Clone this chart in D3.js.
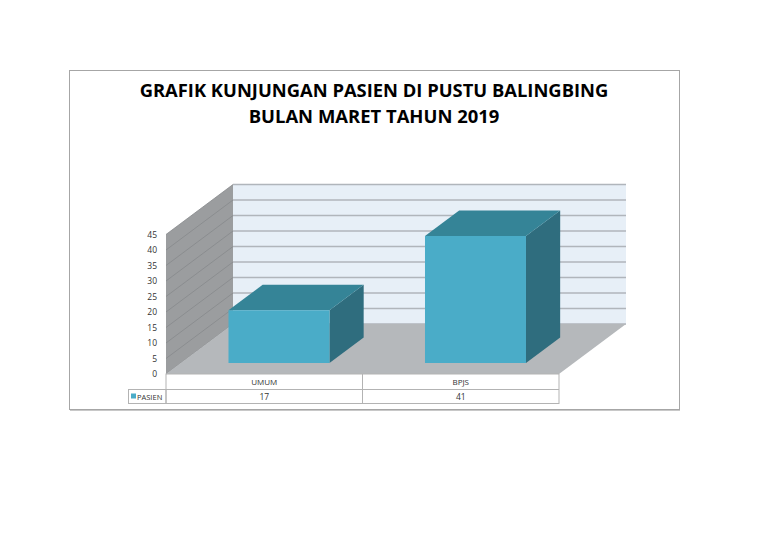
<!DOCTYPE html>
<html>
<head>
<meta charset="utf-8">
<script src="https://cdn.jsdelivr.net/npm/d3@7"></script>
<style>
  html, body { margin: 0; padding: 0; background: #fff; }
  svg { display: block; }
</style>
</head>
<body>
<div id="chart"></div>
<script>
// chart data
const titleLines = ["GRAFIK KUNJUNGAN PASIEN DI PUSTU BALINGBING", "BULAN MARET TAHUN 2019"];
const categories = ["UMUM", "BPJS"];
const values = [17, 41];
const seriesName = "PASIEN";
const yTicks = [0, 5, 10, 15, 20, 25, 30, 35, 40, 45];

const width = 768, height = 543;
const svg = d3.select("#chart").append("svg")
    .attr("width", width)
    .attr("height", height);

// outer frame
svg.append("rect")
    .attr("x", 69.5).attr("y", 70.5)
    .attr("width", 610).attr("height", 339)
    .attr("fill", "#fff")
    .attr("stroke", "#a6a6a6")
    .attr("stroke-width", 1);
svg.append("line")
    .attr("x1", 70).attr("x2", 680).attr("y1", 410.5).attr("y2", 410.5)
    .attr("stroke", "#c8c8c8");

// title, sized to the reference widths
const titleWidths = [469, 251];
const titleBase = [97, 123];
titleLines.forEach((t, i) => {
    const txt = svg.append("text")
        .attr("x", 374).attr("y", titleBase[i])
        .attr("text-anchor", "middle")
        .style("font-family", "'Open Sans', sans-serif")
        .style("font-weight", "700")
        .style("font-size", "20px")
        .style("fill", "#000")
        .text(t);
    const w = txt.node().getComputedTextLength();
    txt.style("font-size", (20 * titleWidths[i] / w).toFixed(2) + "px");
});

// 3D geometry: front plane + depth offset
const depth = { dx: 67, dy: -50 };
const x = d3.scaleBand().domain(categories).range([166, 559]).paddingInner(0).paddingOuter(0);
const y = d3.scaleLinear().domain([0, 45]).range([374, 234.5]);
const P = (px, py, f) => [px + depth.dx * f, py + depth.dy * f];
const poly = pts => "M" + pts.map(p => p.join(",")).join("L") + "Z";

const xL = x.range()[0], xR = x.range()[1];
const g = svg.append("g");

// side wall
g.append("path")
    .attr("d", poly([P(xL, y(0), 0), P(xL, y(0), 1), P(xL, y(45), 1), P(xL, y(45), 0)]))
    .attr("fill", "#9b9d9f");

// back wall
g.append("path")
    .attr("d", poly([P(xL, y(0), 1), P(xR, y(0), 1), P(xR, y(45), 1), P(xL, y(45), 1)]))
    .attr("fill", "#e7eff7");

// gridlines on back wall and side wall
yTicks.forEach(v => {
    const b0 = P(xL, y(v), 1), b1 = P(xR, y(v), 1), f0 = P(xL, y(v), 0);
    g.append("line")
        .attr("x1", b0[0]).attr("y1", b0[1]).attr("x2", b1[0]).attr("y2", b1[1])
        .attr("stroke", "#b0b5bb").attr("stroke-width", 1.3);
    g.append("line")
        .attr("x1", f0[0]).attr("y1", f0[1]).attr("x2", b0[0]).attr("y2", b0[1])
        .attr("stroke", "#87898b").attr("stroke-width", 0.8);
});

// floor
g.append("path")
    .attr("d", poly([P(xL, y(0), 0), P(xR, y(0), 0), P(xR, y(0), 1), P(xL, y(0), 1)]))
    .attr("fill", "#b5b8bb");

// y tick labels
g.selectAll("text.tick")
    .data(yTicks)
    .enter().append("text")
    .attr("class", "tick")
    .attr("x", 157)
    .attr("y", d => y(d) + 3)
    .attr("text-anchor", "end")
    .style("font-family", "'Open Sans', sans-serif")
    .style("font-size", "8.5px")
    .style("fill", "#333")
    .text(d => d);

// bars (3D boxes)
const barFrac = 0.514;
const f0 = 0.22, f1 = 0.73;
const bars = g.selectAll("g.bar")
    .data(categories.map((c, i) => ({ c, v: values[i] })))
    .enter().append("g")
    .attr("class", "bar");

bars.each(function (d) {
    const bw = x.bandwidth() * barFrac;
    const cx = x(d.c) + x.bandwidth() / 2;
    const l = cx - bw / 2, r = cx + bw / 2;
    const b = y(0), t = y(d.v);
    const s = d3.select(this);
    // side
    s.append("path")
        .attr("d", poly([P(r, b, f0), P(r, b, f1), P(r, t, f1), P(r, t, f0)]))
        .attr("fill", "#2f6d7e");
    // top
    s.append("path")
        .attr("d", poly([P(l, t, f0), P(r, t, f0), P(r, t, f1), P(l, t, f1)]))
        .attr("fill", "#358497");
    // front
    s.append("path")
        .attr("d", poly([P(l, b, f0), P(r, b, f0), P(r, t, f0), P(l, t, f0)]))
        .attr("fill", "#4aacc8");
});

// data table
const rowTop = 374, rowMid = 389.5, rowBot = 403.5;
const tbl = svg.append("g");
const border = "#b3b3b3";
tbl.append("rect")
    .attr("x", xL).attr("y", rowTop).attr("width", xR - xL).attr("height", rowBot - rowTop)
    .attr("fill", "none").attr("stroke", border);
tbl.append("line")
    .attr("x1", 128).attr("x2", xR).attr("y1", rowMid).attr("y2", rowMid)
    .attr("stroke", border);
tbl.append("rect")
    .attr("x", 128.5).attr("y", rowMid).attr("width", xL - 128.5).attr("height", rowBot - rowMid)
    .attr("fill", "none").attr("stroke", border);
categories.forEach((c, i) => {
    if (i > 0) {
        tbl.append("line")
            .attr("x1", x(c)).attr("x2", x(c)).attr("y1", rowTop).attr("y2", rowBot)
            .attr("stroke", border);
    }
    const cx = x(c) + x.bandwidth() / 2;
    tbl.append("text")
        .attr("x", cx).attr("y", rowTop + 11)
        .attr("text-anchor", "middle")
        .style("font-family", "'Open Sans', sans-serif")
        .style("font-size", "8px")
        .style("fill", "#333")
        .text(c);
    tbl.append("text")
        .attr("x", cx).attr("y", rowMid + 10.5)
        .attr("text-anchor", "middle")
        .style("font-family", "'Open Sans', sans-serif")
        .style("font-size", "8.5px")
        .style("fill", "#333")
        .text(values[i]);
});
// legend key
tbl.append("rect")
    .attr("x", 131).attr("y", rowMid + 4).attr("width", 5).attr("height", 5)
    .attr("fill", "#4aacc8");
tbl.append("text")
    .attr("x", 137).attr("y", rowMid + 10)
    .style("font-family", "'Open Sans', sans-serif")
    .style("font-size", "7.5px")
    .style("fill", "#333")
    .text(seriesName);
</script>
</body>
</html>
